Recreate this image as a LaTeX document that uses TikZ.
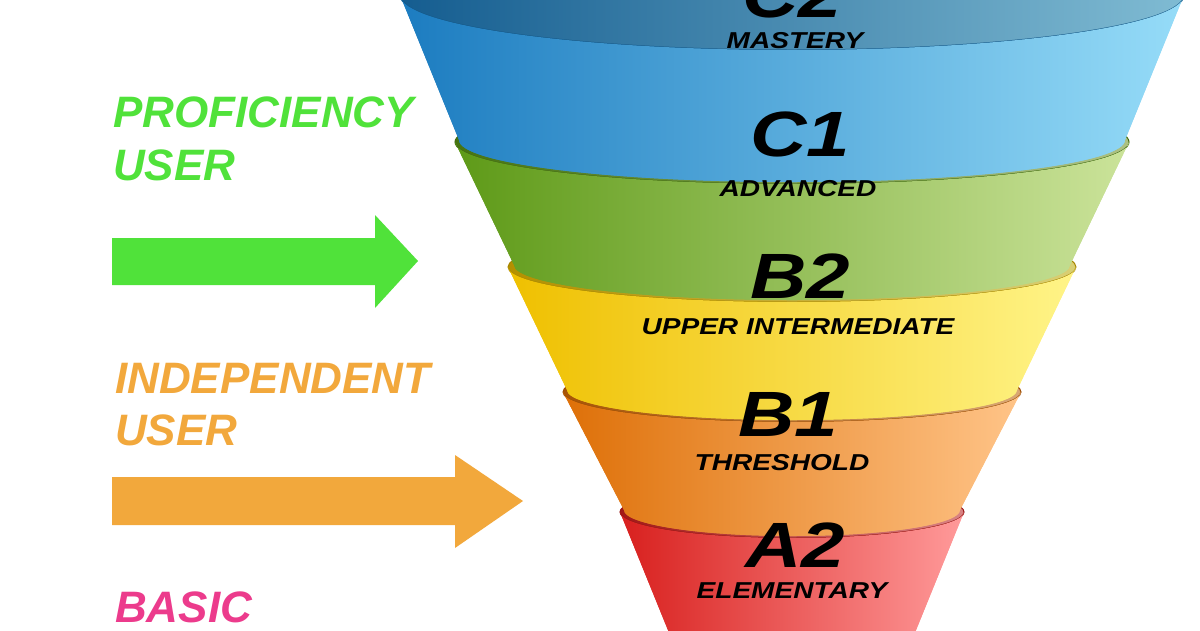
\documentclass[tikz,border=0pt]{standalone}
\usepackage{fontspec}
\setmainfont{Liberation Sans}
\definecolor{rD}{HTML}{D8201E}\definecolor{rL}{HTML}{FF9A9A}
\definecolor{oD}{HTML}{DE7008}\definecolor{oL}{HTML}{FFC488}
\definecolor{yD}{HTML}{EFC000}\definecolor{yL}{HTML}{FFF488}
\definecolor{gD}{HTML}{5E9A18}\definecolor{gL}{HTML}{CBE39A}
\definecolor{bD}{HTML}{1C7CC0}\definecolor{bL}{HTML}{96DCF8}
\definecolor{pgreen}{RGB}{80,226,58}
\definecolor{porange}{RGB}{242,168,60}
\definecolor{ppink}{RGB}{236,59,140}
\newcommand\wide[1]{\scalebox{1.22}[1]{#1}}
\begin{document}
\begin{tikzpicture}[x=1pt,y=-1pt,
  big/.style={font=\fontsize{64}{64}\selectfont\bfseries\itshape, text=black, inner sep=0},
  small/.style={font=\fontsize{23}{23}\selectfont\bfseries\itshape, text=black, inner sep=0},
  side/.style={font=\fontsize{44}{44}\selectfont\bfseries\itshape, anchor=west, inner sep=0}]
\useasboundingbox (0,0) rectangle (1200,630);
\clip (0,0) rectangle (1200,630);
\fill[white] (0,0) rectangle (1200,630);
\def\cx{792}
\foreach \yt/\wt/\rt/\yb/\wb/\rb/\c in {
  512/172/26/640/120/22/r,
  392/229/30/510/168/26/o,
  267/284/35/390/225/30/y,
  142/337/42/265/278/35/g,
  -5/392/55/140/333/42/b}{
  \path[left color=\c D, right color=\c L]
    (\cx-\wt,\yt) -- (\cx-\wb,\yb) arc[start angle=180,end angle=360,x radius=\wb pt,y radius=\rb pt]
    -- (\cx+\wt,\yt) arc[start angle=0,end angle=180,x radius=\wt pt,y radius=\rt pt];
  \path[left color=\c D!75!black, right color=\c L!85!black, draw=\c D!70!black, line width=1pt]
    (\cx,\yt) ellipse[x radius=\wt pt,y radius=\rt pt];
  \path[left color=\c D, right color=\c L]
    (\cx-\wt,\yt) -- (\cx-\wb,\yb) arc[start angle=180,end angle=360,x radius=\wb pt,y radius=\rb pt]
    -- (\cx+\wt,\yt) arc[start angle=0,end angle=-180,x radius=\wt pt,y radius=\rt pt];
}
\node[big] (c2) at (792,-5) {\wide{C2}};
\node[small] (mastery) at (795,41) {\wide{MASTERY}};
\node[big] (c1) at (800,134) {\wide{C1}};
\node[small] (adv) at (798,189) {\wide{ADVANCED}};
\node[big] (b2) at (800,276) {\wide{B2}};
\node[small] (ui) at (798,327) {\wide{UPPER INTERMEDIATE}};
\node[big] (b1) at (788,414) {\wide{B1}};
\node[small] (thr) at (782,463) {\wide{THRESHOLD}};
\node[big] (a2) at (795,545) {\wide{A2}};
\node[small] (elem) at (792,591) {\wide{ELEMENTARY}};
\node[side, text=pgreen] (prof) at (113,112) {PROFICIENCY};
\node[side, text=pgreen] (pu) at (113,165) {USER};
\fill[pgreen] (112,238) -- (375,238) -- (375,215) -- (418,261) -- (375,308) -- (375,285) -- (112,285) -- cycle;
\node[side, text=porange] (ind) at (115,378) {INDEPENDENT};
\node[side, text=porange] (iu) at (115,430) {USER};
\fill[porange] (112,477) -- (455,477) -- (455,455) -- (523,501) -- (455,548) -- (455,525) -- (112,525) -- cycle;
\node[side, text=ppink] (basic) at (115,607) {BASIC};
\end{tikzpicture}
\end{document}
